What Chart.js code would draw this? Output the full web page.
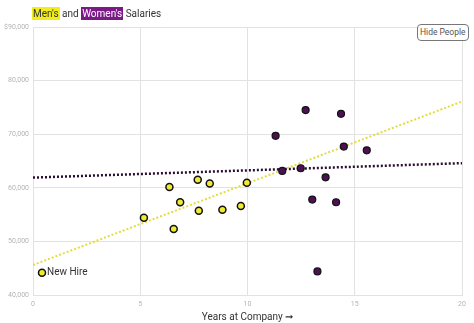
<!DOCTYPE html>
<html>
<head>
<meta charset="utf-8">
<script src="https://cdn.jsdelivr.net/npm/chart.js@4"></script>
<style>
    body { margin: 0; background: #fff; font-family: Roboto, sans-serif; }
    .wrap { position: relative; width: 474px; height: 323px; }
    .title { position: absolute; left: 32px; top: 8px; font-size: 10px; color: #333; }
    .title .men { background: #f2ec1c; color: #333; padding: 1px 1px; }
    .title .women { background: #7b1a86; color: #fff; padding: 1px 1px; }
    .btn {
        position: absolute; left: 417px; top: 24px; height: 15px; padding: 0 2px;
        border: 1px solid #777; border-radius: 4px; background: #fff; white-space: nowrap;
        font-size: 8.5px; color: #555; text-align: center; line-height: 15px;
    }
</style>
</head>
<body>
<div class="wrap">
    <canvas id="chart" width="474" height="323"></canvas>
    <div class="title"><span class="men">Men's</span> and <span class="women">Women's</span> Salaries</div>
    <div class="btn">Hide People</div>
</div>
<script>
// years at company / salary
const menYears = [5.17, 6.36, 6.56, 6.86, 7.68, 7.73, 8.24, 8.83, 9.69, 9.97];
const menSalary = [54400, 60150, 52300, 57300, 61500, 55700, 60800, 55900, 56600, 60950];

const womenYears = [11.31, 12.71, 14.36, 14.49, 15.56, 11.62, 12.48, 13.64, 13.02, 14.13, 13.26];
const womenSalary = [69700, 74500, 73800, 67700, 67000, 63150, 63650, 61950, 57800, 57300, 44400];

const newHireYears = [0.42];
const newHireSalary = [44150];

// trend lines (start and end of x axis)
const trendYears = [0, 20];
const menTrend = [45600, 76100];
const womenTrend = [61900, 64600];

const xTicks = [0, 5, 10, 15, 20];
const yTicks = [40000, 50000, 60000, 70000, 80000, 90000];

const toPoints = (xs, ys) => xs.map((x, i) => ({ x: x, y: ys[i] }));

const newHireLabel = {
    id: 'newHireLabel',
    afterDatasetsDraw(chart) {
        const meta = chart.getDatasetMeta(2);
        const pt = meta.data[0];
        if (!pt) return;
        const ctx = chart.ctx;
        ctx.save();
        ctx.font = '10px Roboto';
        ctx.fillStyle = '#333';
        ctx.textBaseline = 'middle';
        ctx.fillText('New Hire', pt.x + 5, pt.y);
        ctx.restore();
    }
};

new Chart(document.getElementById('chart'), {
    type: 'scatter',
    data: {
        datasets: [
            {
                label: "Men's",
                data: toPoints(menYears, menSalary),
                backgroundColor: '#f0ea30',
                borderColor: '#111',
                borderWidth: 1.5,
                pointRadius: 3.5,
                order: 0
            },
            {
                label: "Women's",
                data: toPoints(womenYears, womenSalary),
                backgroundColor: '#4e1052',
                borderColor: '#111',
                borderWidth: 1.2,
                pointRadius: 3.5,
                order: 0
            },
            {
                label: 'New Hire',
                data: toPoints(newHireYears, newHireSalary),
                backgroundColor: '#f0ea30',
                borderColor: '#111',
                borderWidth: 1.5,
                pointRadius: 3.5,
                order: 0
            },
            {
                type: 'line',
                data: toPoints(trendYears, menTrend),
                borderColor: '#e2dc3e',
                borderWidth: 2,
                borderDash: [2, 2],
                pointRadius: 0,
                order: 1
            },
            {
                type: 'line',
                data: toPoints(trendYears, womenTrend),
                borderColor: '#2a0c33',
                borderWidth: 2.5,
                borderDash: [2, 2],
                pointRadius: 0,
                order: 1
            }
        ]
    },
    options: {
        responsive: false,
        animation: false,
        layout: { padding: { top: 27, right: 12, left: 0, bottom: 0 } },
        plugins: {
            legend: { display: false },
            tooltip: { enabled: false }
        },
        scales: {
            x: {
                type: 'linear',
                min: xTicks[0],
                max: xTicks[xTicks.length - 1],
                afterBuildTicks: axis => { axis.ticks = xTicks.map(v => ({ value: v })); },
                afterFit: axis => { axis.height = 28; },
                grid: { color: '#e2e2e2', drawTicks: false },
                border: { color: '#e2e2e2' },
                ticks: { color: '#b4b4b4', font: { size: 7, family: 'Roboto' }, padding: 5 },
                title: {
                    display: true,
                    text: 'Years at Company ➞',
                    color: '#333',
                    font: { size: 10, family: 'Roboto' },
                    padding: { top: 3, bottom: 0 }
                }
            },
            y: {
                type: 'linear',
                min: yTicks[0],
                max: yTicks[yTicks.length - 1],
                afterBuildTicks: axis => { axis.ticks = yTicks.map(v => ({ value: v })); },
                afterFit: axis => { axis.width = 33; },
                grid: { color: '#e2e2e2', drawTicks: false },
                border: { color: '#e2e2e2' },
                ticks: {
                    color: '#b4b4b4',
                    font: { size: 7, family: 'Roboto' },
                    padding: 4,
                    callback: (v, i, ticks) => (i === ticks.length - 1 ? '$' : '') + v.toLocaleString('en-US')
                }
            }
        }
    },
    plugins: [newHireLabel]
});
</script>
</body>
</html>
